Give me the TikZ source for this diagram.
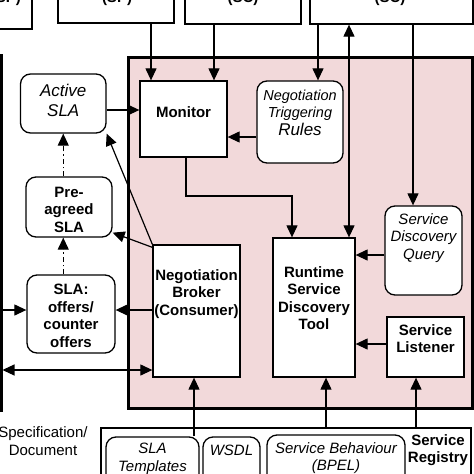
\documentclass[tikz,border=0pt]{standalone}
\usepackage{fontspec}
\setmainfont{Liberation Sans}
\usetikzlibrary{arrows.meta}
\definecolor{brokerpink}{RGB}{242,217,218}

\tikzset{
  box/.style={draw, line width=1.3pt, fill=white, inner sep=0pt},
  rbox/.style={box, rounded corners=10pt},
  arr/.style={line width=1.2pt, -{Triangle[length=12pt,width=11pt]}},
  darr/.style={line width=1.2pt, {Triangle[length=12pt,width=11pt]}-{Triangle[length=12pt,width=11pt]}},
  dashdot/.style={arr, dash pattern=on 5pt off 3pt on 1.5pt off 3pt},
  bftext/.style={font=\fontsize{15}{17.5}\selectfont\bfseries, align=center, inner sep=0pt},
  ittext/.style={font=\fontsize{15}{17.5}\selectfont\itshape, align=center, inner sep=0pt},
}

\begin{document}
\begin{tikzpicture}[x=1pt,y=-1pt]
	\useasboundingbox (0,0) rectangle (474,474);
	% containers
	\node[draw, line width=3pt, fill=brokerpink, minimum width=344pt, minimum height=351pt, inner sep=0pt] (core) at (300,233) {};
	\node[draw, line width=3pt, minimum width=202pt, minimum height=355pt] (spec) at (-100,232.5) {};
	\node[box, minimum width=370pt, minimum height=92pt] (repo) at (286,474) {};
	% top row
	\node[box, minimum width=72pt, minimum height=69pt] (sp1) at (-4,-5.5) {};
	\node[box, minimum width=116pt, minimum height=63pt] (sp2) at (116,-8.5) {};
	\node[box, minimum width=116pt, minimum height=64pt] (sc1) at (243,-8) {};
	\node[box, minimum width=163pt, minimum height=64pt] (sc2) at (391.5,-8) {};
	\node[bftext, anchor=base east] (sp1t) at (21,2) {(SP)};
	\node[bftext, anchor=base] (sp2t) at (117,2) {(SP)};
	\node[bftext, anchor=base] (sc1t) at (243,2) {(SC)};
	\node[bftext, anchor=base] (sc2t) at (390,2) {(SC)};
	% left side
	\node[rbox, minimum width=85.5pt, minimum height=59pt] (active) at (63.25,103.5) {};
	\node[ittext, font=\fontsize{17}{20}\selectfont\itshape] (activet) at (63.25,100.5) {Active\\SLA};
	\node[rbox, minimum width=86pt, minimum height=60pt] (pre) at (69,207) {};
	\node[bftext] (pret) at (69,209.5) {Pre-\\agreed\\SLA};
	\node[rbox, minimum width=88pt, minimum height=78pt] (offers) at (71,314) {};
	\node[bftext] (offerst) at (71,316) {SLA:\\offers/\\counter\\offers};
	% inside
	\node[box, minimum width=87pt, minimum height=76pt] (mon) at (183.5,119) {};
	\node[bftext] (mont) at (183.5,112) {Monitor};
	\node[rbox, minimum width=86pt, minimum height=82pt] (ntr) at (300,122) {};
	\node[ittext, font=\fontsize{14.5}{17}\selectfont\itshape] (ntrt) at (300,113) {Negotiation\\Triggering\\[1.5pt]{\fontsize{17}{17}\selectfont Rules}};
	\node[box, minimum width=87pt, minimum height=132pt] (nb) at (196.5,311) {};
	\node[bftext] (nbt) at (196.5,294) {Negotiation\\Broker\\(Consumer)};
	\node[box, minimum width=82pt, minimum height=139pt] (rsdt) at (314,307.5) {};
	\node[bftext] (rsdtt) at (314,298) {Runtime\\Service\\Discovery\\Tool};
	\node[rbox, minimum width=77pt, minimum height=89pt] (sdq) at (423.5,250.5) {};
	\node[ittext] (sdqt) at (423.5,238) {Service\\Discovery\\Query};
	\node[box, minimum width=77pt, minimum height=60pt] (sl) at (425.5,347) {};
	\node[bftext] (slt) at (425.5,338.5) {Service\\Listener};
	% bottom
	\node[rbox, minimum width=93pt, minimum height=86pt] (tmpl) at (152.5,480) {};
	\node[ittext] (tmplt) at (152.5,459) {SLA\\Templates};
	\node[rbox, minimum width=57pt, minimum height=86pt] (wsdl) at (231.5,480) {};
	\node[ittext] (wsdlt) at (231.5,450) {WSDL};
	\node[rbox, minimum width=138pt, minimum height=86pt] (bpel) at (336,478) {};
	\node[ittext] (bpelt) at (336,458) {Service Behaviour\\(BPEL)};
	\node[bftext] (regt) at (438,450) {Service\\Registry};
	\node[ittext, font=\fontsize{15}{17.5}\selectfont] (spect) at (43,441) {Specification/\\Document};
	% connector points
	\coordinate (xa) at (151,0);
	\coordinate (xb) at (214,0);
	\coordinate (xc) at (318,0);
	\coordinate (xd) at (349,0);
	\coordinate (xe) at (413,0);
	\coordinate (xf) at (194,0);
	\coordinate (xg) at (326,0);
	\coordinate (xh) at (416,0);
	\coordinate (ya) at (0,110);
	\coordinate (yb) at (0,137);
	\coordinate (yc) at (0,255);
	\coordinate (yd) at (0,344);
	\coordinate (ye) at (0,310);
	\coordinate (yf) at (0,370);
	\coordinate (bend1) at (186,196);
	\coordinate (bend2) at (292,196);
	% arrows from top
	\draw[arr] (sp2.south -| xa) -- (mon.north -| xa);
	\draw[arr] (sc1.south -| xb) -- (mon.north -| xb);
	\draw[arr] (sc2.south -| xc) -- (ntr.north -| xc);
	\draw[darr] (sc2.south -| xd) -- (rsdt.north -| xd);
	\draw[arr] (sc2.south -| xe) -- (sdq.north -| xe);
	% inside
	\draw[arr] (active.east |- ya) -- (mon.west |- ya);
	\draw[arr] (ntr.west |- yb) -- (mon.east |- yb);
	\draw[arr] (mon.south -| bend1) -- (bend1) -- (bend2) -- (rsdt.north -| bend2);
	\draw[arr] (sdq.west |- yc) -- (rsdt.east |- yc);
	\draw[arr] (sl.west |- yd) -- (rsdt.east |- yd);
	% broker to SLAs
	\draw[arr] (nb.north west) -- (active.south east);
	\draw[arr] ([yshift=-3pt]nb.north west) -- ([yshift=5pt]pre.south east);
	\draw[arr] (nb.west |- ye) -- (offers.east |- ye);
	\draw[arr] (spec.east |- ye) -- (offers.west |- ye);
	\draw[darr] (spec.east |- yf) -- (nb.west |- yf);
	\draw[dashdot] (active.south |- pre.north) -- (active.south);
	\draw[dashdot] (active.south |- offers.north) -- (active.south |- pre.south);
	% from bottom
	\draw[arr] (tmpl.north -| xf) -- (nb.south -| xf);
	\draw[arr] (repo.north -| xg) -- (rsdt.south -| xg);
	\draw[arr] (repo.north -| xh) -- (sl.south -| xh);
\end{tikzpicture}
\end{document}
